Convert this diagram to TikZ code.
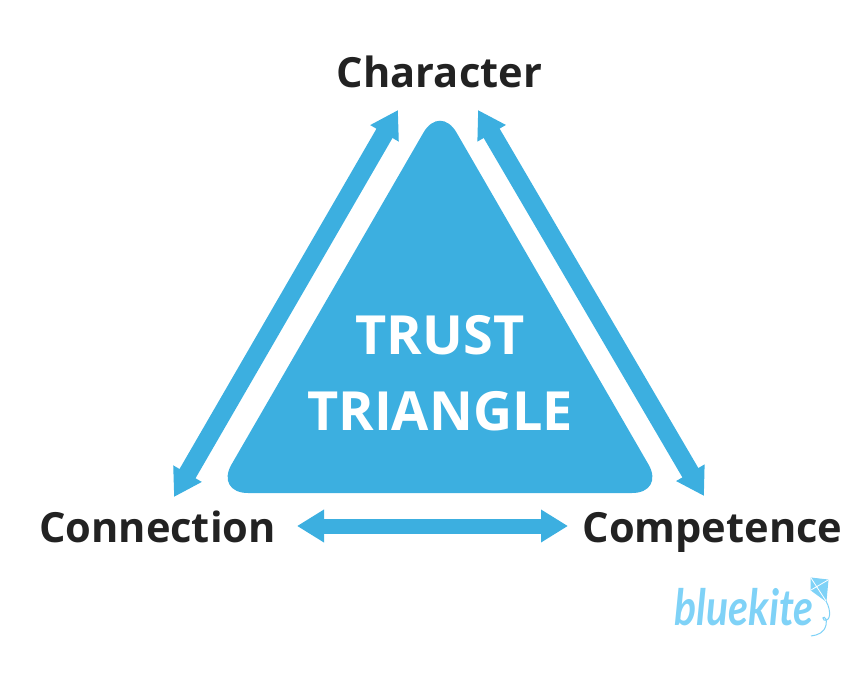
\documentclass[tikz,border=0pt]{standalone}
\usepackage{xcolor}
\usepackage{fontspec}
\usepackage{tikz}
\usetikzlibrary{arrows.meta}
\setmainfont{Open Sans}
\newfontfamily\logofont{Lato}
\definecolor{trustblue}{HTML}{3CAFE0}
\definecolor{kiteblue}{HTML}{7FD2F7}
\definecolor{labelblack}{HTML}{222222}
\tikzset{
    cornerlabel/.style={text=labelblack, inner sep=0pt, anchor=base, font=\bfseries\fontsize{41.6}{48}\selectfont},
    trustarrow/.style={{Triangle[length=27pt,width=31pt]}-{Triangle[length=27pt,width=31pt]}, line width=15pt, trustblue},
    slantarrow/.style={trustarrow, line width=18.5pt}
}
\begin{document}
\begin{tikzpicture}[x=1pt, y=-1pt]
    \useasboundingbox (0,0) rectangle (868,675);
    \fill [trustblue, rounded corners=33pt] (440,104) -- (665,493) -- (215,493) -- cycle;
    \node [text=white, inner sep=0pt, align=center, font=\bfseries\fontsize{54}{76}\selectfont] (trust) at (440,373) {TRUST\\TRIANGLE};

    \node [cornerlabel] (character) at (439.5,87) {Character};
    \node [cornerlabel] (connection) at (157.5,542) {Connection};
    \node [cornerlabel] (competence) at (712.5,542) {Competence};

    \coordinate (charL) at (398,110);
    \coordinate (charR) at (478,110);
    \coordinate (connT) at (174,497);
    \coordinate (connR) at (297,526);
    \coordinate (compT) at (704,496);
    \coordinate (compL) at (568,526);

    \draw [slantarrow] (connT) -- (charL);
    \draw [slantarrow] (compT) -- (charR);
    \draw [trustarrow] (connR) -- (compL);

    % logo
    \node [text=kiteblue, inner sep=0pt, anchor=base, font=\logofont\bfseries\itshape\fontsize{50}{52}\selectfont] (logo) at (744,625) {\scalebox{0.82}[1]{bluekite}};
    \coordinate (kiteA) at (811,578);
    \coordinate (kiteB) at (828,580);
    \coordinate (kiteC) at (826,601);
    \coordinate (kiteD) at (811,590);
    \draw [kiteblue, fill=kiteblue, line width=1pt, line join=round] (kiteA) -- (kiteB) -- (kiteC) -- (kiteD) -- cycle;
    \draw [white, line width=0.8pt] (kiteA) -- (kiteC) (kiteB) -- (kiteD);
    \draw [kiteblue, line width=1pt] (kiteC) .. controls (832,612) and (830,622) .. (824,620) .. controls (820,617) and (828,614) .. (826,625) .. controls (824,633) and (818,635) .. (811,636);
\end{tikzpicture}
\end{document}
